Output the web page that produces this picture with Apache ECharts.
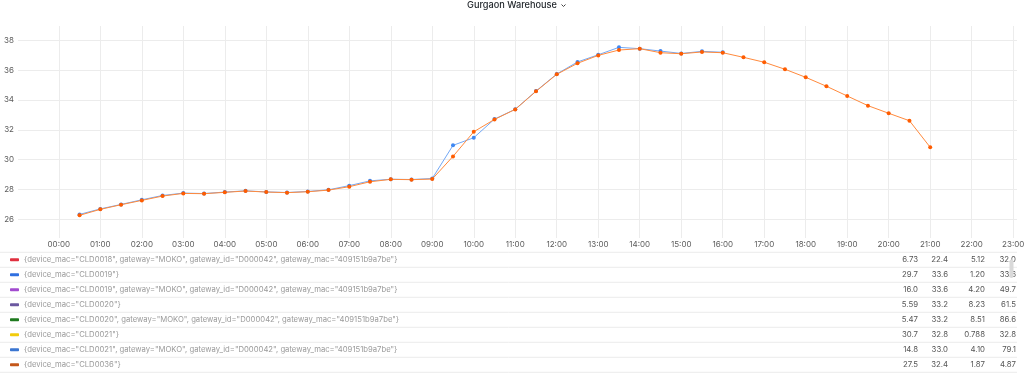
<!DOCTYPE html>
<html><head><meta charset="utf-8">
<script src="https://cdn.jsdelivr.net/npm/echarts@6/dist/echarts.min.js"></script>
<style>html,body{margin:0;padding:0;background:#fff;}#c{width:1024px;height:376px;}</style>
</head><body><div id="c"></div>
<script>
// ---- data ----
const orangeTimes = ['00:30','01:00','01:30','02:00','02:30','03:00','03:30','04:00','04:30','05:00','05:30','06:00','06:30','07:00','07:30','08:00','08:30','09:00','09:30','10:00','10:30','11:00','11:30','12:00','12:30','13:00','13:30','14:00','14:30','15:00','15:30','16:00','16:30','17:00','17:30','18:00','18:30','19:00','19:30','20:00','20:30','21:00'];
const orangeValues = [26.27,26.67,26.98,27.27,27.56,27.74,27.72,27.81,27.90,27.83,27.79,27.85,27.96,28.19,28.52,28.68,28.66,28.70,30.22,31.87,32.70,33.37,34.58,35.72,36.46,36.99,37.35,37.44,37.17,37.10,37.22,37.17,36.86,36.53,36.06,35.52,34.92,34.27,33.62,33.11,32.61,30.83];
const blueTimes = ['00:30','01:00','01:30','02:00','02:30','03:00','03:30','04:00','04:30','05:00','05:30','06:00','06:30','07:00','07:30','08:00','08:30','09:00','09:30','10:00','10:30','11:00','11:30','12:00','12:30','13:00','13:30','14:00','14:30','15:00','15:30','16:00'];
const blueValues = [26.33,26.70,27.00,27.31,27.60,27.76,27.73,27.83,27.91,27.84,27.80,27.87,27.98,28.26,28.58,28.69,28.67,28.74,30.96,31.47,32.72,33.38,34.60,35.74,36.55,37.03,37.53,37.44,37.28,37.12,37.26,37.20];

const legendNames = [
  '{device_mac="CLD0018", gateway="MOKO", gateway_id="D000042", gateway_mac="409151b9a7be"}',
  '{device_mac="CLD0019"}',
  '{device_mac="CLD0019", gateway="MOKO", gateway_id="D000042", gateway_mac="409151b9a7be"}',
  '{device_mac="CLD0020"}',
  '{device_mac="CLD0020", gateway="MOKO", gateway_id="D000042", gateway_mac="409151b9a7be"}',
  '{device_mac="CLD0021"}',
  '{device_mac="CLD0021", gateway="MOKO", gateway_id="D000042", gateway_mac="409151b9a7be"}',
  '{device_mac="CLD0036"}'
];
const legendColors = ['#e0303f','#2f6fe0','#a24bcf','#6b58a0','#1f7a1f','#f2cc0c','#3b76d1','#c4571a'];
const col1 = ['6.73','29.7','16.0','5.59','5.47','30.7','14.8','27.5'];
const col2 = ['22.4','33.6','33.6','33.2','33.2','32.8','33.0','32.4'];
const col3 = ['5.12','1.20','4.20','8.23','8.51','0.788','4.10','1.87'];
const col4 = ['32.0','33.6','49.7','61.5','86.6','32.8','79.1','4.87'];

// ---- helpers ----
function ts(t){ const p=t.split(':'); return new Date(2024,4,20,+p[0],+p[1]).getTime(); }
const xMin = ts('00:00') - 59*60000;
const xMax = ts('23:00') + 5.5*60000;
const pad = n => (n<10?'0':'')+n;

const FONT = 'Inter, "Noto Sans", sans-serif';
const chart = echarts.init(document.getElementById('c'));

const series = [
  {name:'series-blue', type:'line', data: blueTimes.map((t,i)=>[ts(t), blueValues[i]]),
   symbol:'circle', symbolSize:4, showSymbol:true, lineStyle:{width:1,color:'#73a8f5'},
   itemStyle:{color:'#3f88f2'}, z:2, animation:false},
  {name:'series-orange', type:'line', data: orangeTimes.map((t,i)=>[ts(t), orangeValues[i]]),
   symbol:'circle', symbolSize:4, showSymbol:true, lineStyle:{width:1,color:'#ff8a3d'},
   itemStyle:{color:'#ff5c00'}, z:3, animation:false}
];
legendNames.forEach((n,i)=>series.push({name:n, type:'line', data:[], color:legendColors[i], itemStyle:{color:legendColors[i]}}));

const rowTop = 252.3, rowH = 15;
const graphics = [];
for(let i=0;i<=legendNames.length;i++){
  graphics.push({type:'line', shape:{x1:0,y1:rowTop+i*rowH,x2:1017,y2:rowTop+i*rowH}, style:{stroke:'#ebebeb',lineWidth:1}, silent:true});
}
[[col1,918],[col2,948],[col3,985],[col4,1016]].forEach(([c,x])=>{
  graphics.push({type:'text', x:x, y:rowTop, style:{text:c.join('\n'), align:'right', verticalAlign:'top', lineHeight:rowH, fontSize:7.8, fontFamily:FONT, fill:'#555'}, silent:true});
});
graphics.push({type:'rect', shape:{x:1009.5,y:259.5,width:4,height:18.5,r:2}, style:{fill:'#d9d9d9'}, silent:true});
graphics.push({type:'polyline', shape:{points:[[561.5,4.5],[563.5,6.5],[565.5,4.5]]}, style:{stroke:'#444',lineWidth:1,fill:null}, silent:true});

chart.setOption({
  animation:false,
  backgroundColor:'#fff',
  title:{text:'Gurgaon Warehouse', left:'center', top:0, padding:[1,0,0,0],
    textStyle:{fontFamily:FONT, fontSize:9.2, fontWeight:500, color:'#24292e'}},
  grid:{left:18, right:7, top:26, bottom:138, outerBoundsMode:'none'},
  xAxis:{type:'time', min:xMin, max:xMax, minInterval:3600000, maxInterval:3600000, splitNumber:24,
    axisLine:{show:false}, axisTick:{show:false},
    splitLine:{show:true, showMinLine:false, showMaxLine:false, lineStyle:{color:'#ececec', width:1}},
    axisLabel:{fontFamily:FONT, fontSize:8, color:'#5c5c5c', margin:3, showMinLabel:false, showMaxLabel:false, hideOverlap:false,
      formatter:function(v){const d=new Date(v); return pad(d.getHours())+':'+pad(d.getMinutes());}}},
  yAxis:{type:'value', min:24.75, max:38.96, splitNumber:7,
    axisLine:{show:false}, axisTick:{show:false},
    splitLine:{show:true, showMinLine:false, showMaxLine:false, lineStyle:{color:'#ececec', width:1}},
    axisLabel:{fontFamily:FONT, fontSize:8, color:'#5c5c5c', margin:4, showMinLabel:false, showMaxLabel:false}},
  legend:{orient:'vertical', left:10, top:rowTop, padding:0, itemGap:0, itemWidth:9, itemHeight:3,
    icon:'roundRect', selectedMode:false, data:legendNames,
    textStyle:{fontFamily:FONT, fontSize:7.7, color:'#9a9a9a', lineHeight:rowH, height:rowH}},
  series: series,
  graphic: graphics
});
</script></body></html>
